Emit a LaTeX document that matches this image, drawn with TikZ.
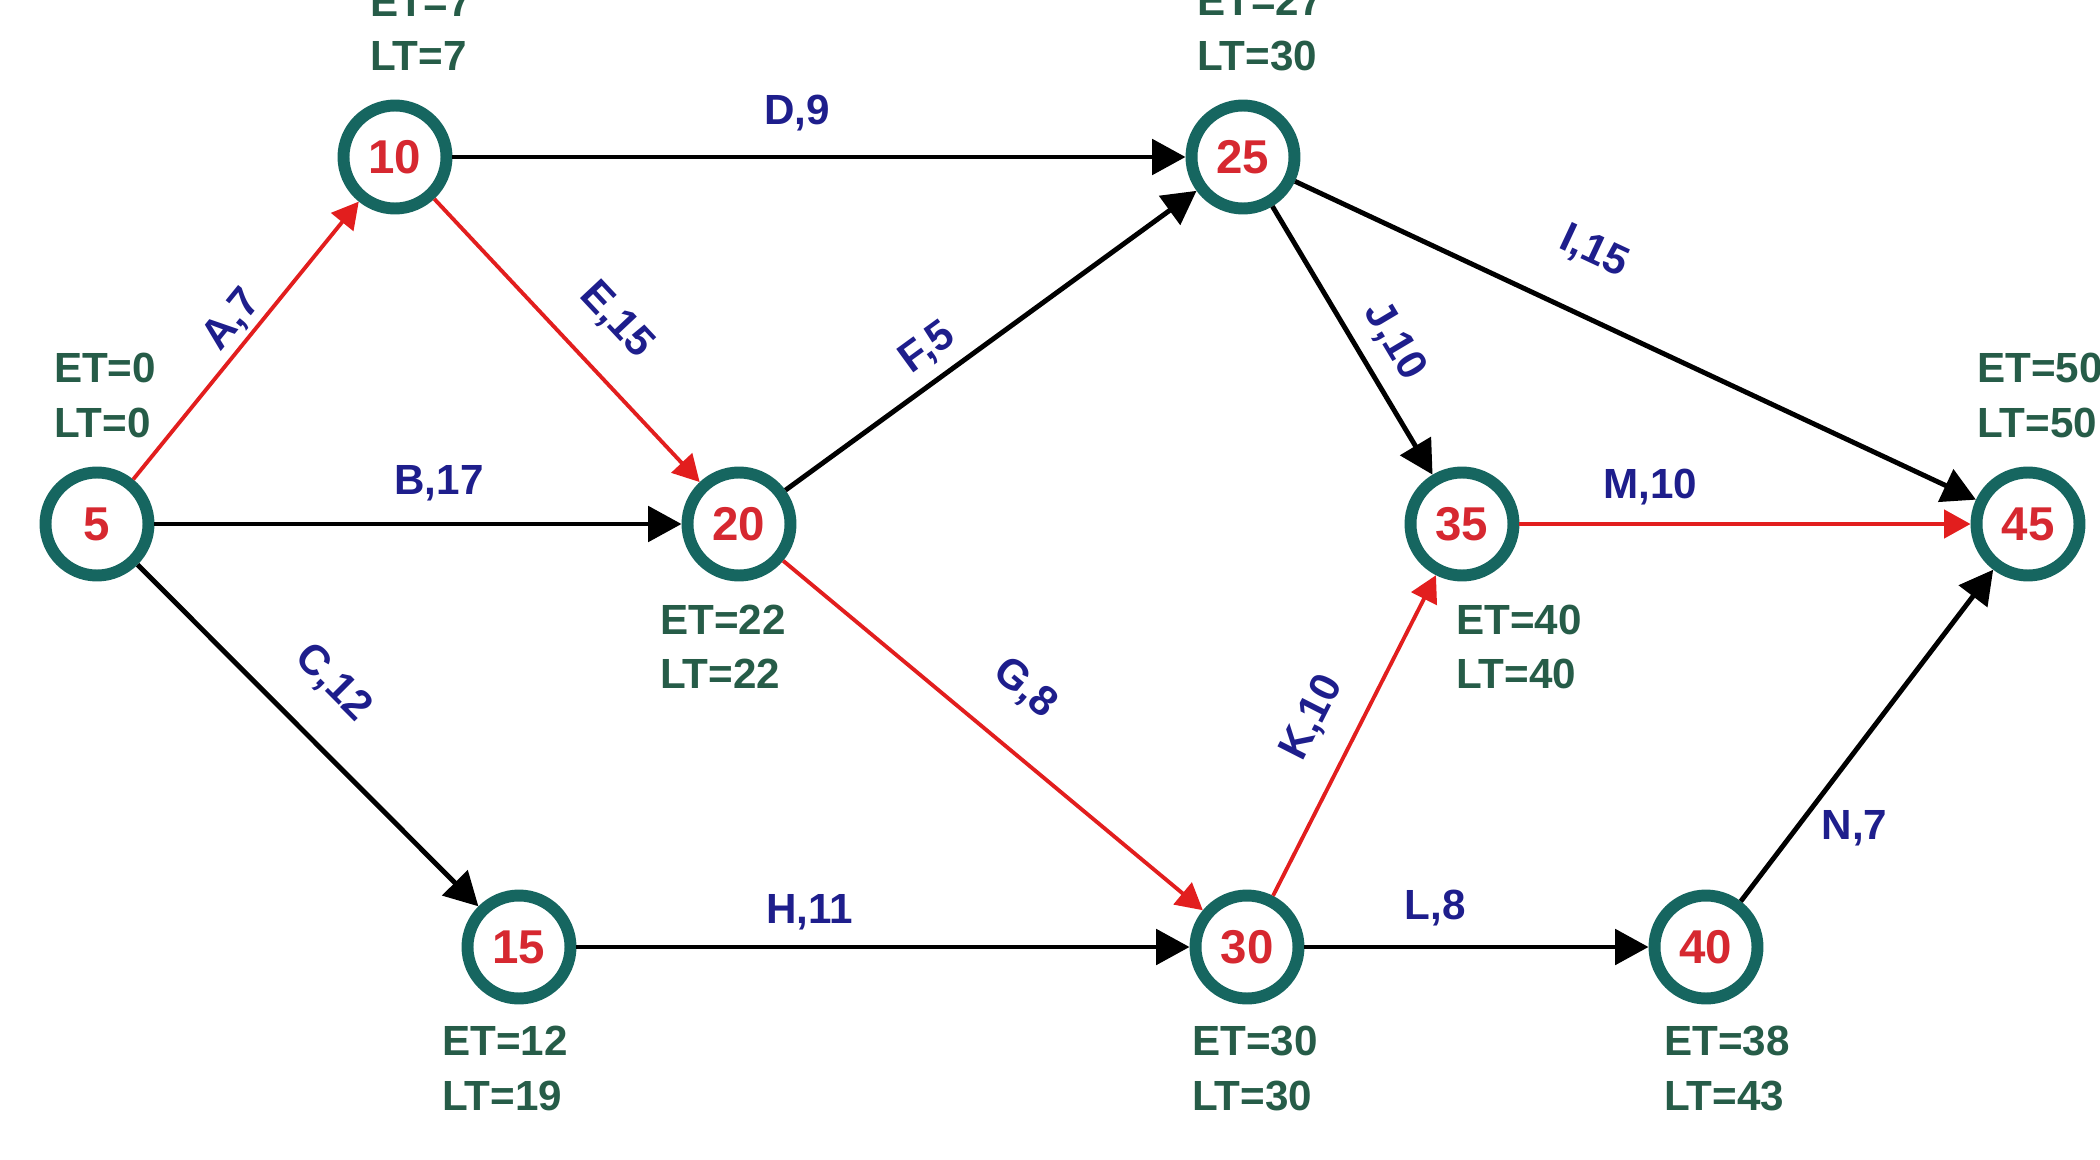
\documentclass[tikz,border=0pt]{standalone}
\usepackage{fontspec}
\setmainfont{Liberation Sans}
\usepackage{tikz}
\usetikzlibrary{arrows.meta}
\usetikzlibrary{positioning}

\definecolor{ring}{RGB}{22,102,96}
\definecolor{evnum}{RGB}{214,40,48}
\definecolor{timegreen}{RGB}{38,92,72}
\definecolor{actblue}{RGB}{30,30,140}
\definecolor{crit}{RGB}{226,30,30}

\begin{document}
\begin{tikzpicture}

\tikzset{
  % event circles
  event/.style={circle, draw=ring, line width=3.4pt, fill=white,
    minimum size=1.03cm, inner sep=0pt, text=evnum,
    font=\fontsize{13.5}{14}\selectfont\bfseries},
  % earliest and latest times
  times/.style={align=left, inner sep=1pt, text=timegreen,
    font=\fontsize{12}{15.5}\selectfont\bfseries},
  % activity and duration
  act/.style={inner sep=1pt, text=actblue,
    font=\fontsize{12}{14}\selectfont\bfseries},
  % ordinary and critical activities
  normal/.style={draw=black, line width=1.4pt,
    -{Triangle[length=9.5pt,width=10pt]}},
  critical/.style={draw=crit, line width=1.1pt,
    -{Triangle[length=7.5pt,width=8pt]}},
}

\useasboundingbox (0,0) rectangle (21,11.59);

% events
\node [event] (n5) at (0.97,6.35) {5};
\node [event] (n10) at (3.95,10.02) {10};
\node [event] (n20) at (7.39,6.35) {20};
\node [event] (n15) at (5.19,2.12) {15};
\node [event] (n25) at (12.43,10.02) {25};
\node [event] (n30) at (12.47,2.12) {30};
\node [event] (n35) at (14.62,6.35) {35};
\node [event] (n40) at (17.06,2.12) {40};
\node [event] (n45) at (20.28,6.35) {45};

% times
\node [times, above=7pt of n5, xshift=0.08cm] (t5) {ET=0\\LT=0};
\node [times, above=7pt of n10, xshift=0.26cm] (t10) {ET=7\\LT=7};
\node [times, above=7pt of n25, xshift=0.17cm] (t25) {ET=27\\LT=30};
\node [times, above=7pt of n45, xshift=0.12cm] (t45) {ET=50\\LT=50};
\node [times, below=5.5pt of n20, xshift=-0.16cm] (t20) {ET=22\\LT=22};
\node [times, below=5pt of n15, xshift=-0.14cm] (t15) {ET=12\\LT=19};
\node [times, below=5pt of n30, xshift=0.08cm] (t30) {ET=30\\LT=30};
\node [times, below=5.5pt of n35, xshift=0.57cm] (t35) {ET=40\\LT=40};
\node [times, below=5pt of n40, xshift=0.21cm] (t40) {ET=38\\LT=43};

% activities
\draw [critical] (n5) -- node [act, sloped, above=0pt, pos=0.52] (aA) {A,7} (n10);
\draw [normal] (n5) -- node [act, above=4.9pt, pos=0.54] (aB) {B,17} (n20);
\draw [normal] (n5) -- node [act, sloped, above=8.7pt, pos=0.46] (aC) {C,12} (n15);
\draw [normal] (n10) -- node [act, above=5.7pt, pos=0.47] (aD) {D,9} (n25);
\draw [critical] (n10) -- node [act, sloped, above=7.5pt, pos=0.55] (aE) {E,15} (n20);
\draw [normal] (n20) -- node [act, sloped, above=2pt, pos=0.39] (aF) {F,5} (n25);
\draw [critical] (n20) -- node [act, sloped, above=9.3pt, pos=0.49] (aG) {G,8} (n30);
\draw [normal] (n15) -- node [act, above=3.1pt, pos=0.38] (aH) {H,11} (n30);
\draw [normal] (n25) -- node [act, sloped, above=10.9pt, pos=0.40] (aI) {I,15} (n45);
\draw [normal] (n25) -- node [act, sloped, above=3.2pt, pos=0.57] (aJ) {J,10} (n35);
\draw [critical] (n30) -- node [act, sloped, above=6.3pt, pos=0.49] (aK) {K,10} (n35);
\draw [normal] (n30) -- node [act, above=4.2pt, pos=0.38] (aL) {L,8} (n40);
\draw [critical] (n35) -- node [act, above=3.8pt, pos=0.29] (aM) {M,10} (n45);
\draw [normal] (n40) -- node [act, right=5.5pt, pos=0.22] (aN) {N,7} (n45);

\end{tikzpicture}
\end{document}
